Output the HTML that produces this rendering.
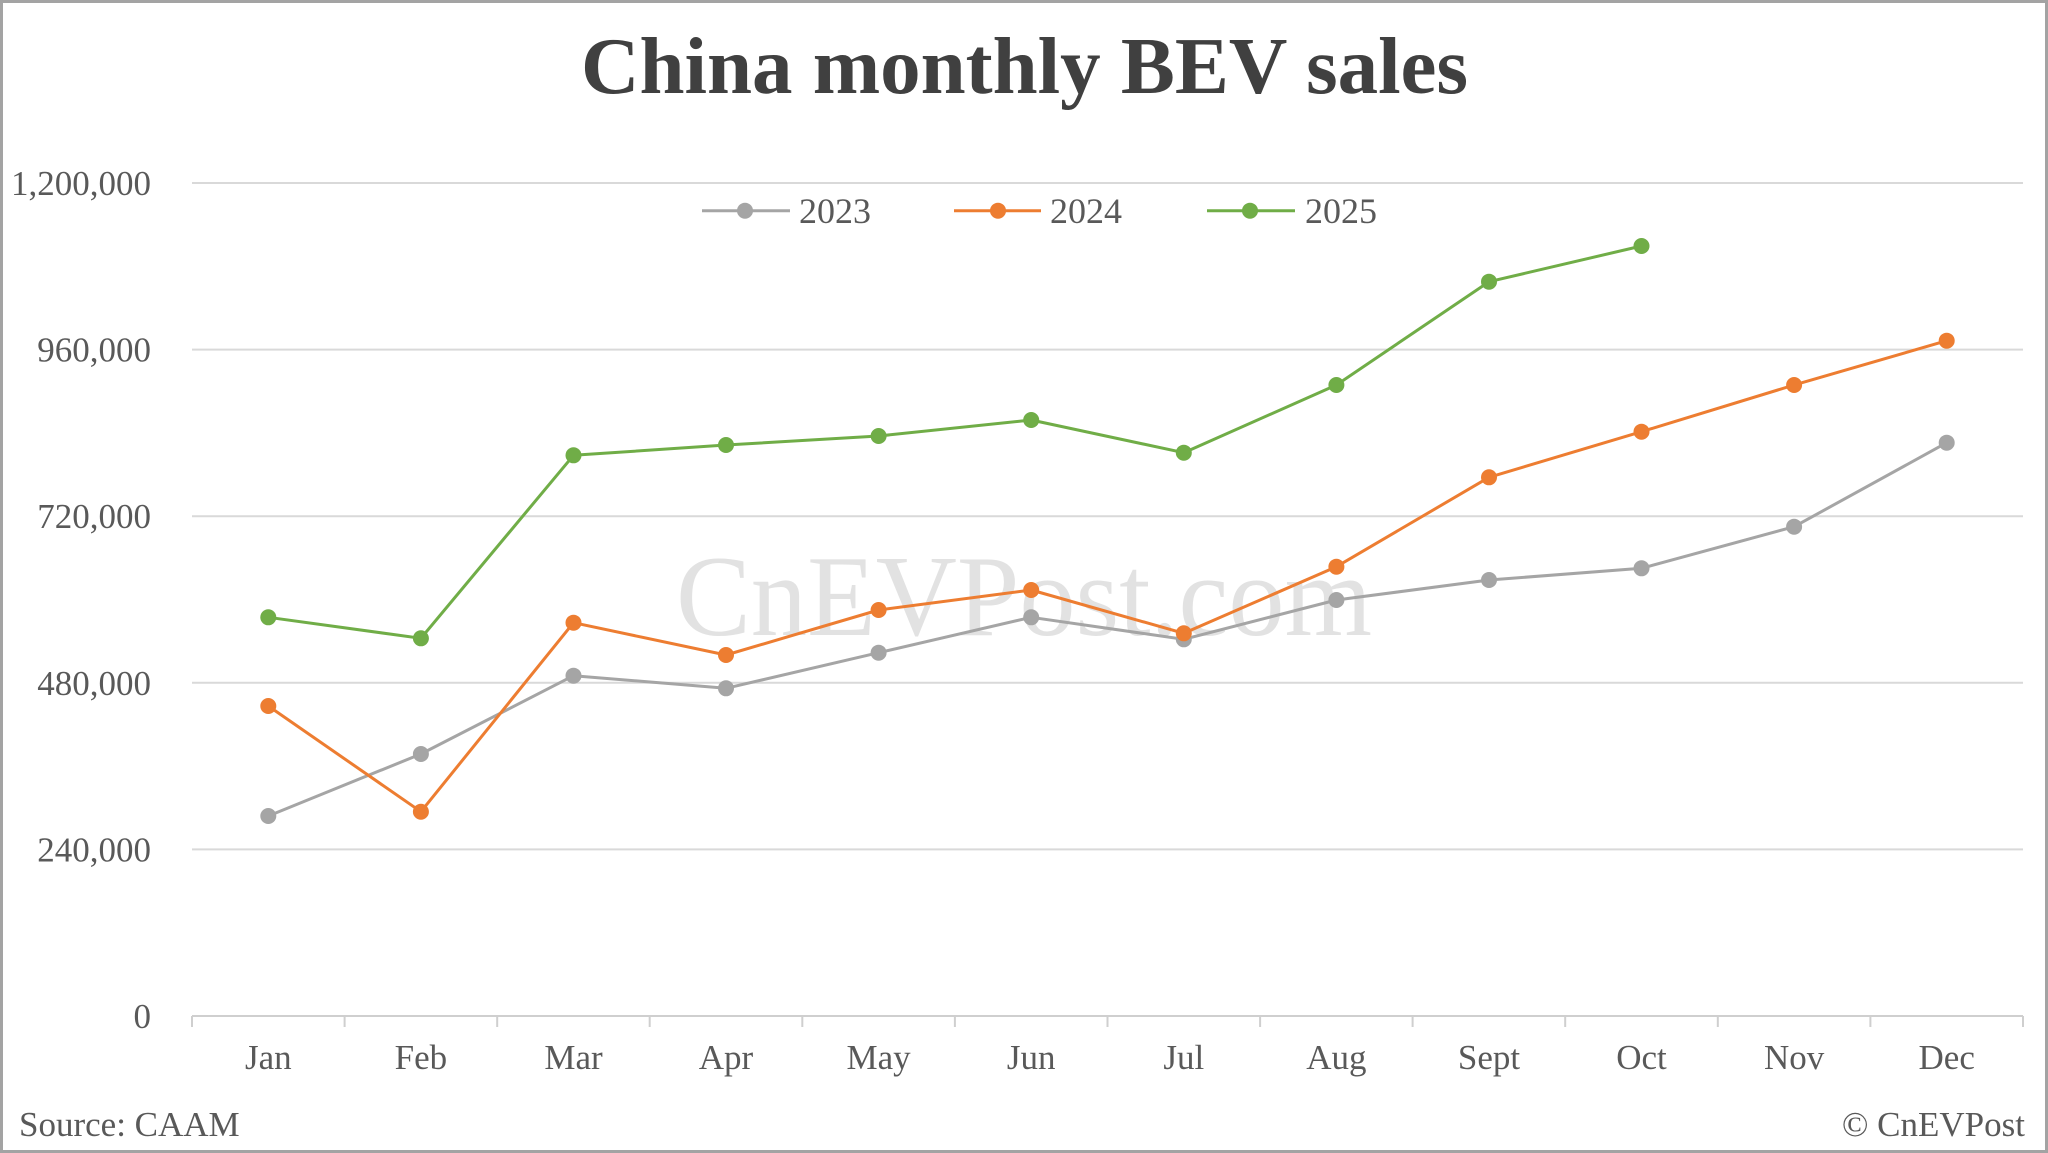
<!DOCTYPE html>
<html>
<head>
<meta charset="utf-8">
<style>
  html, body { margin:0; padding:0; background:#fff; }
  svg { display:block; }
  text { font-family: "Liberation Serif", "Times New Roman", serif; }
</style>
</head>
<body>
<svg width="2048" height="1153" viewBox="0 0 2048 1153" xmlns="http://www.w3.org/2000/svg">
  <rect x="0" y="0" width="2048" height="1153" fill="#ffffff"/>
  <rect x="1.5" y="1.5" width="2045" height="1150" fill="none" stroke="#a3a3a3" stroke-width="3"/>

  <!-- Title -->
  <text x="581" y="93" font-size="81" font-weight="bold" fill="#404040" textLength="887" lengthAdjust="spacingAndGlyphs">China monthly BEV sales</text>

  <!-- Gridlines -->
  <g stroke="#d9d9d9" stroke-width="2">
    <line x1="192" y1="183" x2="2023" y2="183"/>
    <line x1="192" y1="349.6" x2="2023" y2="349.6"/>
    <line x1="192" y1="516.2" x2="2023" y2="516.2"/>
    <line x1="192" y1="682.8" x2="2023" y2="682.8"/>
    <line x1="192" y1="849.4" x2="2023" y2="849.4"/>
  </g>
  <!-- X axis -->
  <g stroke="#cfcfcf" stroke-width="2">
    <line x1="192" y1="1016" x2="2023" y2="1016"/>
    <line x1="192" y1="1016" x2="192" y2="1027"/>
    <line x1="344.6" y1="1016" x2="344.6" y2="1027"/>
    <line x1="497.2" y1="1016" x2="497.2" y2="1027"/>
    <line x1="649.7" y1="1016" x2="649.7" y2="1027"/>
    <line x1="802.3" y1="1016" x2="802.3" y2="1027"/>
    <line x1="954.9" y1="1016" x2="954.9" y2="1027"/>
    <line x1="1107.5" y1="1016" x2="1107.5" y2="1027"/>
    <line x1="1260.1" y1="1016" x2="1260.1" y2="1027"/>
    <line x1="1412.6" y1="1016" x2="1412.6" y2="1027"/>
    <line x1="1565.2" y1="1016" x2="1565.2" y2="1027"/>
    <line x1="1717.8" y1="1016" x2="1717.8" y2="1027"/>
    <line x1="1870.4" y1="1016" x2="1870.4" y2="1027"/>
    <line x1="2023" y1="1016" x2="2023" y2="1027"/>
  </g>

  <!-- Y labels -->
  <g font-size="35" fill="#595959" text-anchor="end">
    <text x="151" y="195">1,200,000</text>
    <text x="151" y="361.6">960,000</text>
    <text x="151" y="528.2">720,000</text>
    <text x="151" y="694.8">480,000</text>
    <text x="151" y="861.4">240,000</text>
    <text x="151" y="1028">0</text>
  </g>

  <!-- X labels -->
  <g font-size="35" fill="#595959" text-anchor="middle">
    <text x="268.3" y="1069">Jan</text>
    <text x="420.9" y="1069">Feb</text>
    <text x="573.5" y="1069">Mar</text>
    <text x="726" y="1069">Apr</text>
    <text x="878.6" y="1069">May</text>
    <text x="1031.2" y="1069">Jun</text>
    <text x="1183.8" y="1069">Jul</text>
    <text x="1336.4" y="1069">Aug</text>
    <text x="1489" y="1069">Sept</text>
    <text x="1641.5" y="1069">Oct</text>
    <text x="1794.1" y="1069">Nov</text>
    <text x="1946.7" y="1069">Dec</text>
  </g>

  <!-- Watermark -->
  <text x="676" y="635" font-size="116" fill="#d6d6d6" fill-opacity="0.7" textLength="696" lengthAdjust="spacingAndGlyphs">CnEVPost.com</text>

  <!-- Legend -->
  <g stroke-width="3">
    <line x1="702" y1="210.7" x2="790" y2="210.7" stroke="#a5a5a5"/>
    <circle cx="745" cy="210.7" r="8" fill="#a5a5a5" stroke="none"/>
    <line x1="954" y1="210.7" x2="1041" y2="210.7" stroke="#ed7d31"/>
    <circle cx="998" cy="210.7" r="8" fill="#ed7d31" stroke="none"/>
    <line x1="1207" y1="210.7" x2="1295" y2="210.7" stroke="#70ad47"/>
    <circle cx="1250" cy="210.7" r="8" fill="#70ad47" stroke="none"/>
  </g>
  <g font-size="36" fill="#595959">
    <text x="799" y="223">2023</text>
    <text x="1050" y="223">2024</text>
    <text x="1305" y="223">2025</text>
  </g>

  <!-- 2023 gray -->
  <polyline fill="none" stroke="#a5a5a5" stroke-width="3" stroke-linejoin="round"
    points="268.3,816 420.9,754 573.5,675.7 726,688.3 878.6,652.7 1031.2,617.3 1183.8,639.3 1336.4,600 1489,580 1641.5,568.3 1794.1,526.7 1946.7,442.7"/>
  <g fill="#a5a5a5">
    <circle cx="268.3" cy="816" r="8"/>
    <circle cx="420.9" cy="754" r="8"/>
    <circle cx="573.5" cy="675.7" r="8"/>
    <circle cx="726" cy="688.3" r="8"/>
    <circle cx="878.6" cy="652.7" r="8"/>
    <circle cx="1031.2" cy="617.3" r="8"/>
    <circle cx="1183.8" cy="639.3" r="8"/>
    <circle cx="1336.4" cy="600" r="8"/>
    <circle cx="1489" cy="580" r="8"/>
    <circle cx="1641.5" cy="568.3" r="8"/>
    <circle cx="1794.1" cy="526.7" r="8"/>
    <circle cx="1946.7" cy="442.7" r="8"/>
  </g>

  <!-- 2024 orange -->
  <polyline fill="none" stroke="#ed7d31" stroke-width="3" stroke-linejoin="round"
    points="268.3,706 420.9,811.7 573.5,622.7 726,655 878.6,610 1031.2,590 1183.8,633.3 1336.4,566.7 1489,477.3 1641.5,431.7 1794.1,385 1946.7,340.7"/>
  <g fill="#ed7d31">
    <circle cx="268.3" cy="706" r="8"/>
    <circle cx="420.9" cy="811.7" r="8"/>
    <circle cx="573.5" cy="622.7" r="8"/>
    <circle cx="726" cy="655" r="8"/>
    <circle cx="878.6" cy="610" r="8"/>
    <circle cx="1031.2" cy="590" r="8"/>
    <circle cx="1183.8" cy="633.3" r="8"/>
    <circle cx="1336.4" cy="566.7" r="8"/>
    <circle cx="1489" cy="477.3" r="8"/>
    <circle cx="1641.5" cy="431.7" r="8"/>
    <circle cx="1794.1" cy="385" r="8"/>
    <circle cx="1946.7" cy="340.7" r="8"/>
  </g>

  <!-- 2025 green -->
  <polyline fill="none" stroke="#70ad47" stroke-width="3" stroke-linejoin="round"
    points="268.3,617.3 420.9,638.3 573.5,455.3 726,445 878.6,436 1031.2,420 1183.8,452.7 1336.4,385 1489,281.7 1641.5,246"/>
  <g fill="#70ad47">
    <circle cx="268.3" cy="617.3" r="8"/>
    <circle cx="420.9" cy="638.3" r="8"/>
    <circle cx="573.5" cy="455.3" r="8"/>
    <circle cx="726" cy="445" r="8"/>
    <circle cx="878.6" cy="436" r="8"/>
    <circle cx="1031.2" cy="420" r="8"/>
    <circle cx="1183.8" cy="452.7" r="8"/>
    <circle cx="1336.4" cy="385" r="8"/>
    <circle cx="1489" cy="281.7" r="8"/>
    <circle cx="1641.5" cy="246" r="8"/>
  </g>

  <!-- Footer -->
  <text x="19" y="1136" font-size="35" fill="#595959">Source: CAAM</text>
  <text x="2025" y="1136" font-size="35" fill="#595959" text-anchor="end">© CnEVPost</text>
</svg>
</body>
</html>
